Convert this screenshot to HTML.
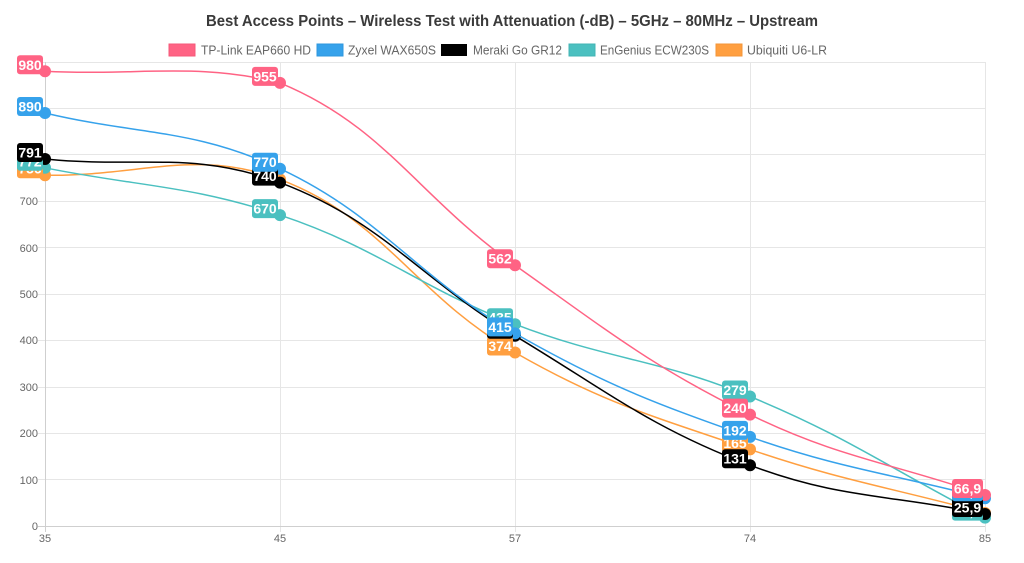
<!DOCTYPE html>
<html>
<head>
<meta charset="utf-8">
<style>
  html, body { margin: 0; padding: 0; background: #ffffff; }
  svg { display: block; }
  .tick { font-family: "Liberation Sans", sans-serif; font-size: 11px; fill: #666; }
  .lg { font-family: "Liberation Sans", sans-serif; font-size: 13px; fill: #666; }
  .dl { font-family: "Liberation Sans", sans-serif; font-size: 14px; font-weight: bold; fill: #fff; text-anchor: middle; }
</style>
</head>
<body>
<svg width="1024" height="563" viewBox="0 0 1024 563" xmlns="http://www.w3.org/2000/svg">
  <rect x="0" y="0" width="1024" height="563" fill="#ffffff"/>

  <!-- Title -->
  <text x="512" y="26" text-anchor="middle" font-family="Liberation Sans, sans-serif" font-size="16" font-weight="bold" fill="#3a3a3a" textLength="612" lengthAdjust="spacingAndGlyphs">Best Access Points – Wireless Test with Attenuation (-dB) – 5GHz – 80MHz – Upstream</text>

  <!-- Legend -->
  <rect x="169" y="44" width="26" height="12" fill="#ff6384" stroke="#f45a7a" stroke-width="1"/>
  <text class="lg" x="201" y="54.5" textLength="110" lengthAdjust="spacingAndGlyphs">TP-Link EAP660 HD</text>
  <rect x="317" y="44" width="26" height="12" fill="#36a2eb" stroke="#2f97de" stroke-width="1"/>
  <text class="lg" x="348" y="54.5" textLength="88" lengthAdjust="spacingAndGlyphs">Zyxel WAX650S</text>
  <rect x="441" y="44" width="26" height="12" fill="#000000"/>
  <text class="lg" x="473" y="54.5" textLength="89" lengthAdjust="spacingAndGlyphs">Meraki Go GR12</text>
  <rect x="569" y="44" width="26" height="12" fill="#4bc0c0" stroke="#43b4b4" stroke-width="1"/>
  <text class="lg" x="600" y="54.5" textLength="109" lengthAdjust="spacingAndGlyphs">EnGenius ECW230S</text>
  <rect x="716" y="44" width="26" height="12" fill="#ff9f40" stroke="#f39538" stroke-width="1"/>
  <text class="lg" x="747" y="54.5" textLength="80" lengthAdjust="spacingAndGlyphs">Ubiquiti U6-LR</text>

  <!-- Horizontal gridlines -->
  <g stroke="#e6e6e6" stroke-width="1">
    <line x1="38" y1="62.5" x2="985" y2="62.5"/>
    <line x1="38" y1="108.5" x2="985" y2="108.5"/>
    <line x1="38" y1="154.5" x2="985" y2="154.5"/>
    <line x1="38" y1="201.5" x2="985" y2="201.5"/>
    <line x1="38" y1="247.5" x2="985" y2="247.5"/>
    <line x1="38" y1="294.5" x2="985" y2="294.5"/>
    <line x1="38" y1="340.5" x2="985" y2="340.5"/>
    <line x1="38" y1="387.5" x2="985" y2="387.5"/>
    <line x1="38" y1="433.5" x2="985" y2="433.5"/>
    <line x1="38" y1="479.5" x2="985" y2="479.5"/>
  </g>
  <!-- Vertical gridlines -->
  <g stroke="#e6e6e6" stroke-width="1">
    <line x1="280.5" y1="62" x2="280.5" y2="532"/>
    <line x1="515.5" y1="62" x2="515.5" y2="532"/>
    <line x1="750.5" y1="62" x2="750.5" y2="532"/>
    <line x1="985.5" y1="62" x2="985.5" y2="532"/>
  </g>
  <!-- Axes -->
  <line x1="45.5" y1="62" x2="45.5" y2="532" stroke="#cfcfcf" stroke-width="1"/>
  <line x1="38" y1="526.5" x2="985" y2="526.5" stroke="#cfcfcf" stroke-width="1"/>

  <!-- Y tick labels -->
  <g class="tick" text-anchor="end">
    <text x="38" y="112">900</text>
    <text x="38" y="159">800</text>
    <text x="38" y="205">700</text>
    <text x="38" y="252">600</text>
    <text x="38" y="298">500</text>
    <text x="38" y="344">400</text>
    <text x="38" y="391">300</text>
    <text x="38" y="437">200</text>
    <text x="38" y="484">100</text>
    <text x="38" y="530">0</text>
  </g>
  <!-- X tick labels -->
  <g class="tick" text-anchor="middle">
    <text x="45" y="542">35</text>
    <text x="280" y="542">45</text>
    <text x="515" y="542">57</text>
    <text x="750" y="542">74</text>
    <text x="985" y="542">85</text>
  </g>

  <!-- Series (drawn last dataset first) -->
  <!-- Ubiquiti -->
  <path d="M45,175.2 C139,176.9 196.1,147.8 280,179.4 C384.1,218.7 414.5,294.8 515,352.5 C602.5,402.8 654,416.6 750,449.4 C842,480.8 891,487.6 985,513" fill="none" stroke="#ff9f40" stroke-width="1.5"/>
  <g fill="#ff9f40">
    <circle cx="45" cy="175.2" r="6"/><circle cx="280" cy="179.4" r="6"/><circle cx="515" cy="352.5" r="6"/><circle cx="750" cy="449.4" r="6"/><circle cx="985" cy="513" r="6"/>
  </g>
  <!-- EnGenius -->
  <path d="M45,167.8 C139,186.7 189.7,185 280,215.1 C377.7,247.6 418.5,287 515,324.2 C606.5,359.5 659.4,359.2 750,396.5 C847.4,436.6 891,469.2 985,517.6" fill="none" stroke="#4bc0c0" stroke-width="1.5"/>
  <g fill="#4bc0c0">
    <circle cx="45" cy="167.8" r="6"/><circle cx="280" cy="215.1" r="6"/><circle cx="515" cy="324.2" r="6"/><circle cx="750" cy="396.5" r="6"/><circle cx="985" cy="517.6" r="6"/>
  </g>
  <!-- Meraki -->
  <path d="M45,159 C139,168.4 194.1,150.3 280,182.6 C382.1,221 418.9,278 515,335.8 C606.9,391.1 650.8,427.6 750,465.2 C838.8,498.9 891,494.5 985,514" fill="none" stroke="#000000" stroke-width="1.5"/>
  <g fill="#000000">
    <circle cx="45" cy="159" r="6"/><circle cx="280" cy="182.6" r="6"/><circle cx="515" cy="335.8" r="6"/><circle cx="750" cy="465.2" r="6"/><circle cx="985" cy="514" r="6"/>
  </g>
  <!-- Zyxel -->
  <path d="M45,113 C139,135.3 194.1,128.4 280,168.7 C382.1,216.6 415.8,276.8 515,333.4 C603.8,384.1 653.4,403 750,436.9 C841.4,468.9 891,473.7 985,498.2" fill="none" stroke="#36a2eb" stroke-width="1.5"/>
  <g fill="#36a2eb">
    <circle cx="45" cy="113" r="6"/><circle cx="280" cy="168.7" r="6"/><circle cx="515" cy="333.4" r="6"/><circle cx="750" cy="436.9" r="6"/><circle cx="985" cy="498.2" r="6"/>
  </g>
  <!-- TP-Link -->
  <path d="M45,71.3 C139,75.9 197,62 280,82.9 C385,126.2 417.9,196.7 515,265.2 C605.9,329.4 650.6,366 750,414.6 C838.6,457.9 891,462.8 985,495" fill="none" stroke="#ff6384" stroke-width="1.5"/>
  <g fill="#ff6384">
    <circle cx="45" cy="71.3" r="6"/><circle cx="280" cy="82.9" r="6"/><circle cx="515" cy="265.2" r="6"/><circle cx="750" cy="414.6" r="6"/><circle cx="985" cy="495" r="6"/>
  </g>

  <!-- Data labels (Ubiquiti first so TP-Link on top) -->
  <!-- Ubiquiti -->
  <g>
    <rect x="17" y="159.2" width="26" height="19" rx="3" fill="#ff9f40"/><text class="dl" x="30" y="173.7">756</text>
    <rect x="252" y="163.4" width="26" height="19" rx="3" fill="#ff9f40"/><text class="dl" x="265" y="177.9">747</text>
    <rect x="487" y="336.5" width="26" height="19" rx="3" fill="#ff9f40"/><text class="dl" x="500" y="351">374</text>
    <rect x="722" y="433.4" width="26" height="19" rx="3" fill="#ff9f40"/><text class="dl" x="735" y="447.9">165</text>
    <rect x="952" y="497" width="31" height="19" rx="3" fill="#ff9f40"/><text class="dl" x="967.5" y="511.5">28,1</text>
  </g>
  <!-- EnGenius -->
  <g>
    <rect x="17" y="151.8" width="26" height="19" rx="3" fill="#4bc0c0"/><text class="dl" x="30" y="166.3">772</text>
    <rect x="252" y="199.1" width="26" height="19" rx="3" fill="#4bc0c0"/><text class="dl" x="265" y="213.6">670</text>
    <rect x="487" y="308.2" width="26" height="19" rx="3" fill="#4bc0c0"/><text class="dl" x="500" y="322.7">435</text>
    <rect x="722" y="380.5" width="26" height="19" rx="3" fill="#4bc0c0"/><text class="dl" x="735" y="395">279</text>
    <rect x="952" y="501.6" width="31" height="19" rx="3" fill="#4bc0c0"/><text class="dl" x="967.5" y="516.1">18,2</text>
  </g>
  <!-- Meraki -->
  <g>
    <rect x="17" y="143" width="26" height="19" rx="3" fill="#000000"/><text class="dl" x="30" y="157.5">791</text>
    <rect x="252" y="166.6" width="26" height="19" rx="3" fill="#000000"/><text class="dl" x="265" y="181.1">740</text>
    <rect x="487" y="319.8" width="26" height="19" rx="3" fill="#000000"/><text class="dl" x="500" y="334.3">410</text>
    <rect x="722" y="449.2" width="26" height="19" rx="3" fill="#000000"/><text class="dl" x="735" y="463.7">131</text>
    <rect x="952" y="498" width="31" height="19" rx="3" fill="#000000"/><text class="dl" x="967.5" y="512.5">25,9</text>
  </g>
  <!-- Zyxel -->
  <g>
    <rect x="17" y="97" width="26" height="19" rx="3" fill="#36a2eb"/><text class="dl" x="30" y="111.5">890</text>
    <rect x="252" y="152.7" width="26" height="19" rx="3" fill="#36a2eb"/><text class="dl" x="265" y="167.2">770</text>
    <rect x="487" y="317.4" width="26" height="19" rx="3" fill="#36a2eb"/><text class="dl" x="500" y="331.9">415</text>
    <rect x="722" y="420.9" width="26" height="19" rx="3" fill="#36a2eb"/><text class="dl" x="735" y="435.4">192</text>
    <rect x="952" y="482.2" width="31" height="19" rx="3" fill="#36a2eb"/><text class="dl" x="967.5" y="496.7">60,3</text>
  </g>
  <!-- TP-Link -->
  <g>
    <rect x="17" y="55.3" width="26" height="19" rx="3" fill="#ff6384"/><text class="dl" x="30" y="69.8">980</text>
    <rect x="252" y="66.9" width="26" height="19" rx="3" fill="#ff6384"/><text class="dl" x="265" y="81.4">955</text>
    <rect x="487" y="249.2" width="26" height="19" rx="3" fill="#ff6384"/><text class="dl" x="500" y="263.7">562</text>
    <rect x="722" y="398.6" width="26" height="19" rx="3" fill="#ff6384"/><text class="dl" x="735" y="413.1">240</text>
    <rect x="952" y="479" width="31" height="19" rx="3" fill="#ff6384"/><text class="dl" x="967.5" y="493.5">66,9</text>
  </g>
</svg>
</body>
</html>
